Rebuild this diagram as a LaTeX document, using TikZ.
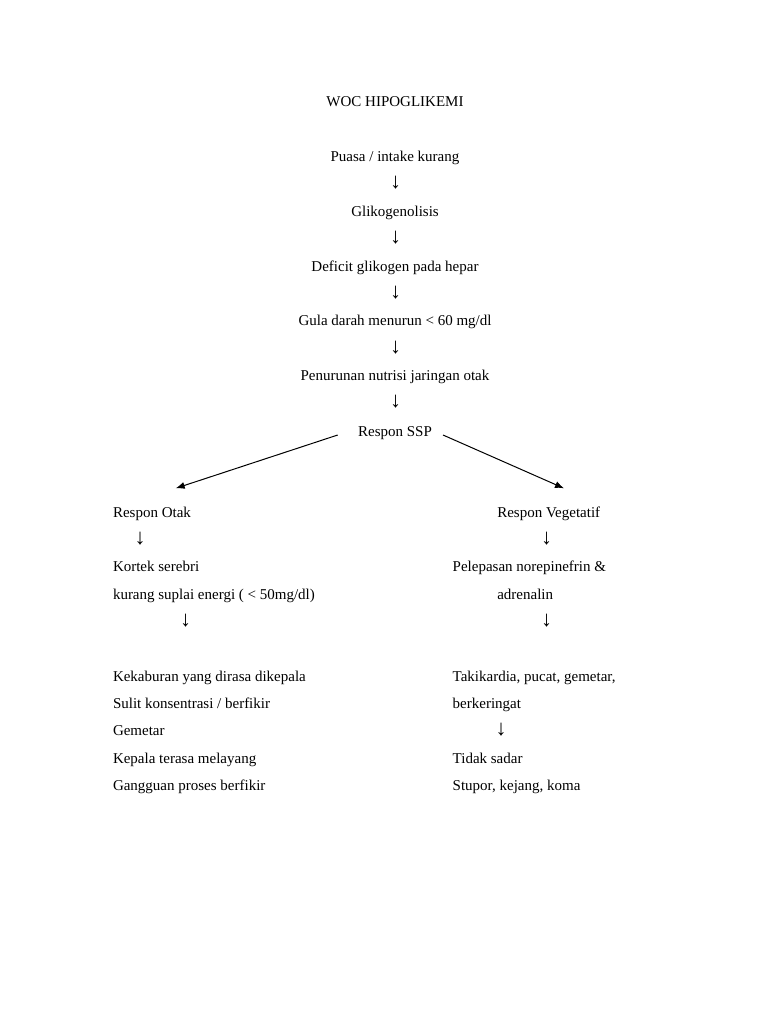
\documentclass[tikz,border=0pt]{standalone}
\usepackage{fontspec}
\setmainfont{Liberation Serif}
\usetikzlibrary{arrows.meta}
\begin{document}
\begin{tikzpicture}[x=1pt,y=-1pt,
  every node/.style={inner sep=0pt,outer sep=0pt,font=\fontsize{15}{18}\selectfont},
  ctext/.style={anchor=base},
  ltext/.style={anchor=base west},
  darr/.style={anchor=base,font=\fontsize{22}{24}\selectfont},
  conn/.style={line width=1pt,-{Latex[length=9pt,width=7pt]}}]
\useasboundingbox (0,0) rectangle (768,1024);
\fill[white] (0,0) rectangle (768,1024);
% central column
\node[ctext] (title) at (395,107) {WOC HIPOGLIKEMI};
\node[ctext] (puasa) at (395,161.7) {Puasa / intake kurang};
\node[darr] (d1) at (395.5,189) {↓};
\node[ctext] (glik) at (395,216.3) {Glikogenolisis};
\node[darr] (d2) at (395.5,243.7) {↓};
\node[ctext] (def) at (395,271) {Deficit glikogen pada hepar};
\node[darr] (d3) at (395.5,298.3) {↓};
\node[ctext] (gula) at (395,325.7) {Gula darah menurun {<} 60 mg/dl};
\node[darr] (d4) at (395.5,353) {↓};
\node[ctext] (pen) at (395,380.3) {Penurunan nutrisi jaringan otak};
\node[darr] (d5) at (395.5,407.7) {↓};
\node[ctext] (ssp) at (395,436.7) {Respon SSP};
% connectors
\coordinate (sl) at (337.7,435);
\coordinate (sr) at (443,435);
\coordinate (tl) at (175.7,488.3);
\coordinate (tr) at (564,488.3);
\draw[conn] (sl) -- (tl);
\draw[conn] (sr) -- (tr);
% left column
\node[ltext] (otak) at (113,517) {Respon Otak};
\node[darr] (l1) at (140,544.3) {↓};
\node[ltext] (kortek) at (113,571.7) {Kortek serebri};
\node[ltext] (kurang) at (113,599) {kurang suplai energi ( {<} 50mg/dl)};
\node[darr] (l2) at (185.7,626.3) {↓};
\node[ltext] (kek) at (113,681) {Kekaburan yang dirasa dikepala};
\node[ltext] (sulit) at (113,708.3) {Sulit konsentrasi / berfikir};
\node[ltext] (gem) at (113,735.7) {Gemetar};
\node[ltext] (kep) at (113,763) {Kepala terasa melayang};
\node[ltext] (gang) at (113,790.3) {Gangguan proses berfikir};
% right column
\node[ltext] (veg) at (497.3,517) {Respon Vegetatif};
\node[darr] (r1) at (546.7,544.3) {↓};
\node[ltext] (pel) at (452.7,571.7) {Pelepasan norepinefrin \&};
\node[ltext] (adr) at (497.3,599) {adrenalin};
\node[darr] (r2) at (546.7,626.3) {↓};
\node[ltext] (tak) at (452.7,681) {Takikardia, pucat, gemetar,};
\node[ltext] (berk) at (452.7,708.3) {berkeringat};
\node[darr] (r3) at (501,735.7) {↓};
\node[ltext] (tidak) at (452.7,763) {Tidak sadar};
\node[ltext] (stup) at (452.7,790.3) {Stupor, kejang, koma};
\end{tikzpicture}
\end{document}
